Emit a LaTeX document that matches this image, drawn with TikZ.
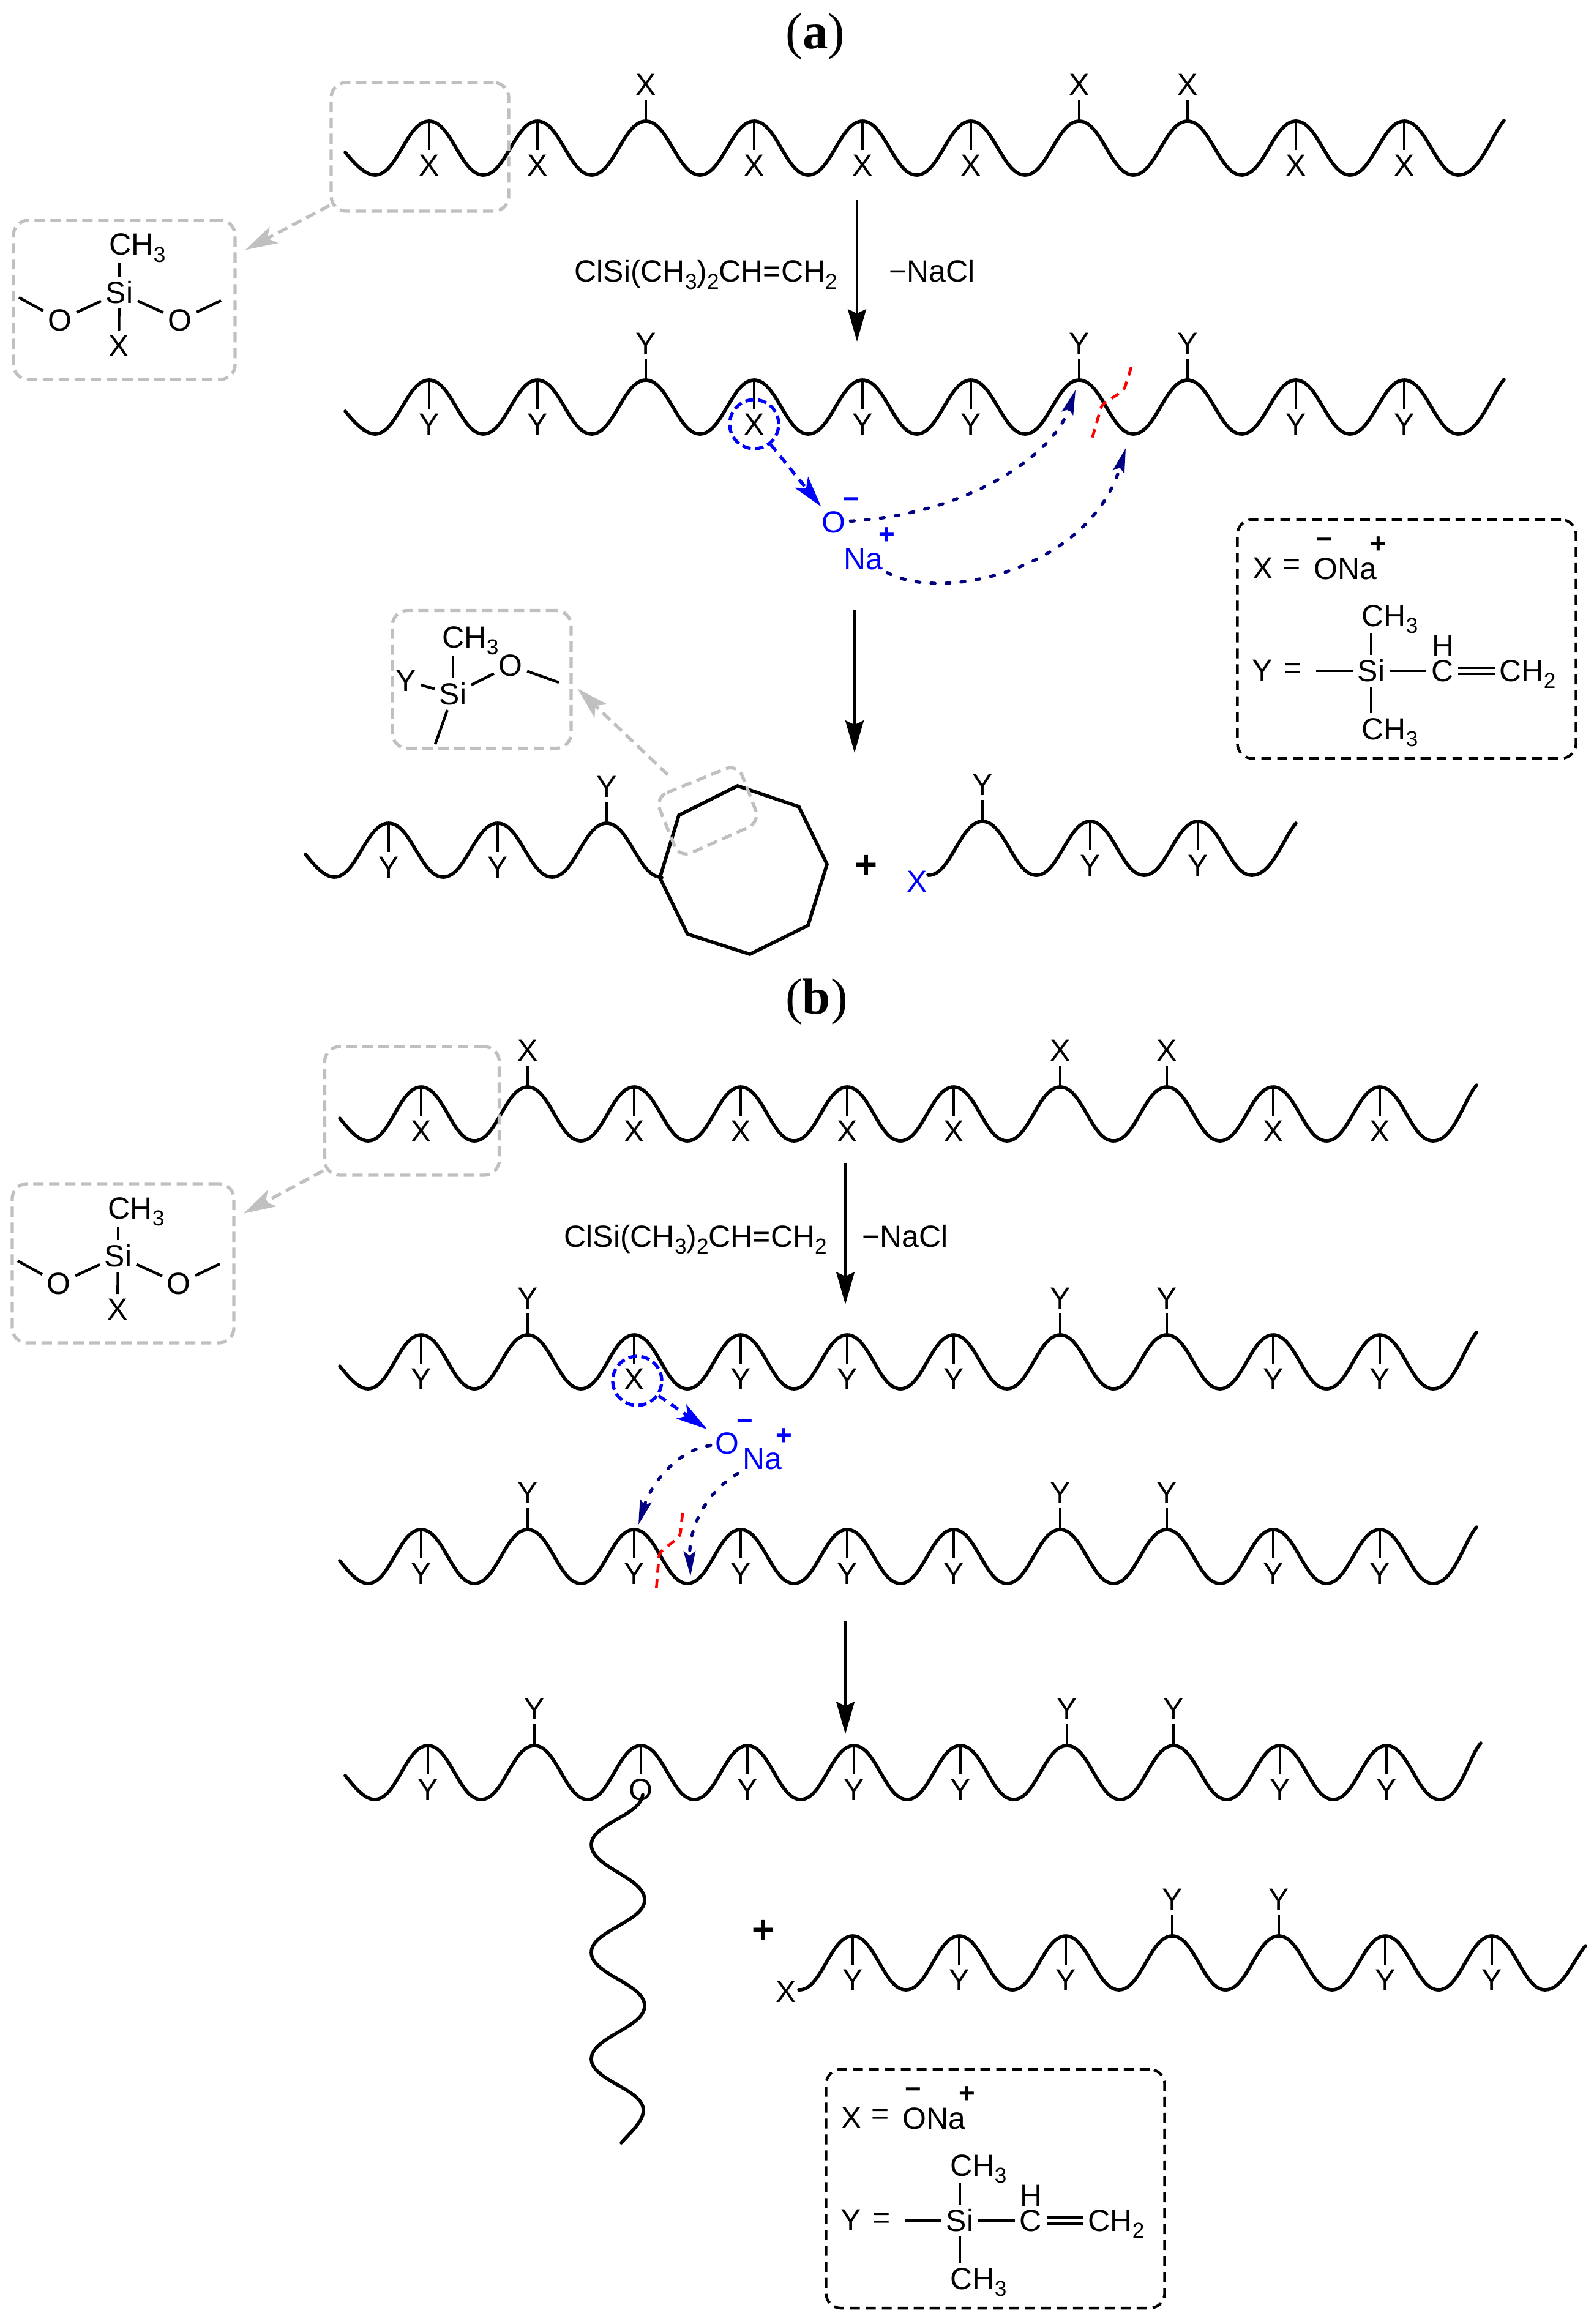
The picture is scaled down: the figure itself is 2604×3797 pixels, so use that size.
\documentclass[tikz,border=0pt]{standalone}
\usepackage{fontspec}
\setmainfont{Liberation Sans}
\newfontfamily\capfont{Liberation Serif}
\usetikzlibrary{arrows.meta}

\definecolor{boxgray}{RGB}{192,192,192}
\definecolor{arcnavy}{RGB}{0,0,128}

\newcommand{\subnum}[1]{\raisebox{-3.3pt}{\fontsize{10}{10}\selectfont #1}}

\tikzset{
  wave/.style={line width=1.6pt, line cap=round, looseness=.75},
  bond/.style={line width=1.25pt},
  txt/.style={inner sep=2pt, font=\fontsize{14.2}{16}\selectfont},
  chem/.style={txt, anchor=base west},
  chg/.style={inner sep=0pt, font=\bfseries\fontsize{13}{15}\selectfont},
  bigplus/.style={inner sep=0pt, font=\bfseries\fontsize{18}{20}\selectfont},
  captxt/.style={inner sep=0pt, font=\capfont\fontsize{23.6}{26}\selectfont},
  graybox/.style={draw=boxgray, line width=1.5pt, dash pattern=on 4.8pt off 2.6pt, rounded corners=7pt},
  blackbox/.style={draw=black, line width=1.25pt, dash pattern=on 4.6pt off 2.8pt, rounded corners=7pt},
  grayarrow/.style={boxgray, line width=1.5pt, dash pattern=on 4.8pt off 2.6pt, -{Stealth[length=15pt,width=8.5pt,inset=3.5pt]}},
  mainarrow/.style={line width=1.2pt, -{Stealth[length=15pt,width=8.5pt,inset=2pt]}},
  bluering/.style={circle, draw=blue, line width=1.5pt, dash pattern=on 4pt off 2pt, minimum size=0.8cm, inner sep=0pt},
  bluearrow/.style={blue, line width=1.5pt, dash pattern=on 4pt off 3pt, -{Stealth[length=14.5pt,width=8pt,inset=3.5pt]}},
  navyarrow/.style={arcnavy, line width=1.5pt, line cap=round, dash pattern=on 1.8pt off 5.2pt, -{Stealth[length=11.5pt,width=5.5pt,inset=2pt]}},
  redcut/.style={red, line width=1.3pt, dash pattern=on 4pt off 3pt, rounded corners=2pt}
}

% name, first peak x, peak y, period, start, end, side/label list
\newcommand{\wavechain}[7]{
  \coordinate (#1s) at (#5);
  \coordinate (#1e) at (#6);
  \coordinate (#1mm) at (#2-#4/2,#3+88);
  \draw[wave] (#1s) to[out=-50,in=180] (#1mm);
  \foreach \side/\lab [count=\idx from 0] in {#7}{
    \pgfmathsetmacro{\px}{#2+\idx*#4}
    \coordinate (#1p\idx) at (\px,#3);
    \coordinate (#1m\idx) at (\px+#4/2,#3+88);
    \xdef\lastpk{\idx}
    \ifnum\idx>0
      \pgfmathtruncatemacro{\prev}{\idx-1}
      \draw[wave] (#1m\prev) to[out=0,in=180] (#1p\idx) to[out=0,in=180] (#1m\idx);
    \else
      \draw[wave] (#1mm) to[out=0,in=180] (#1p0) to[out=0,in=180] (#1m0);
    \fi
    \if\side u
      \node[txt] (#1l\idx) at (\px,#3-60) {\lab};
    \else
      \node[txt] (#1l\idx) at (\px,#3+72) {\lab};
    \fi
    \draw[bond] (#1p\idx) -- (#1l\idx);
  }
  \draw[wave] (#1m\lastpk) to[out=0,in=-130] (#1e);
}

% name, position of Si
\newcommand{\silbox}[3]{
  \begin{scope}[shift={(#2,#3)}]
    \node[graybox, minimum width=3.62cm, minimum height=2.6cm] (#1box) at (8,12) {};
    \node[txt] (#1si) at (0,0) {Si};
    \node[txt] (#1ol) at (-97,45) {O};
    \node[txt] (#1or) at (99,45) {O};
    \node[txt] (#1x) at (-1,87) {X};
    \node[chem] (#1ch) at (-24,-61) {CH\subnum{3}};
    \coordinate (#1fl) at (-164,8);
    \coordinate (#1fr) at (166,13);
    \draw[bond, shorten >=-2pt] (#1si) -- (#1ch.south -| #1si);
    \draw[bond] (#1si) -- (#1x);
    \draw[bond] (#1si) -- (#1ol);
    \draw[bond] (#1si) -- (#1or);
    \draw[bond] (#1ol) -- (#1fl);
    \draw[bond] (#1or) -- (#1fr);
  \end{scope}
}

% name, position of Si
\newcommand{\legendbox}[3]{
  \begin{scope}[shift={(#2,#3)}]
    \node[blackbox, minimum width=5.53cm, minimum height=3.9cm] (#1box) at (58,-52) {};
    \node[txt] (#1x) at (-177,-168) {X};
    \node[txt] (#1eqx) at (-130,-170) {=};
    \node[chem] (#1ona) at (-101,-150) {ONa};
    \node[chg] (#1min) at (-76,-208) {−};
    \node[chg] (#1pls) at (12,-206) {+};
    \node[txt] (#1y) at (-178,-1) {Y};
    \node[txt] (#1eqy) at (-128,0) {=};
    \node[txt] (#1si) at (0,0) {Si};
    \node[txt] (#1c) at (116,0) {C};
    \node[txt] (#1h) at (117,-41) {H};
    \node[chem] (#1vin) at (202,17) {CH\subnum{2}};
    \node[chem] (#1up) at (-23,-73) {CH\subnum{3}};
    \node[chem] (#1dn) at (-23,112) {CH\subnum{3}};
    \coordinate (#1free) at (-90,0);
    \draw[bond] (#1free) -- (#1si);
    \draw[bond] (#1si) -- (#1c);
    \draw[bond, double, double distance=1.6pt] (#1c.east) -- (#1c.east -| #1vin.west);
    \draw[bond, shorten >=-2.5pt] (#1si) -- (#1up.south -| #1si);
    \draw[bond] (#1si) -- (#1dn.north -| #1si);
  \end{scope}
}

\begin{document}
\begin{tikzpicture}[x=0.01cm,y=-0.01cm]
\useasboundingbox (0,0) rectangle (2604,3797);

% panel a
\node[captxt] (capa) at (1332,60) {(\textbf{a})};
\wavechain{aone}{701}{198}{177}{564,249}{2457,197}{d/X,d/X,u/X,d/X,d/X,d/X,u/X,u/X,d/X,d/X}
\wavechain{atwo}{701}{621}{177}{564,672}{2457,620}{d/Y,d/Y,u/Y,d/X,d/Y,d/Y,u/Y,u/Y,d/Y,d/Y}
\wavechain{athr}{635}{1345}{178}{499,1396}{1081,1434}{d/Y,d/Y,u/Y}
\wavechain{afou}{1605}{1342}{176}{1516,1429}{2117,1345}{u/Y,d/Y,d/Y}

\node[graybox, minimum width=2.9cm, minimum height=2.1cm] (smalla) at (686,240) {};
\silbox{sa}{195}{478}
\draw[grayarrow, shorten >=4.5pt] (smalla.-147) -- (sabox.22);

\node[chem] (reaga) at (931,461) {ClSi(CH\subnum{3})\subnum{2}CH=CH\subnum{2}};
\node[chem] (naca) at (1445,461) {−NaCl};
\coordinate (arrowa1) at (1400,326);
\coordinate (arrowa2) at (1400,558);
\draw[mainarrow] (arrowa1) -- (arrowa2);

\node[bluering] (ringa) at (1232,693) {};
\node[txt, blue] (oa) at (1362,853) {O};
\node[chg, blue] (oamin) at (1391,822) {−};
\node[txt, blue] (naa) at (1410,914) {Na};
\node[chg, blue] (naapls) at (1449,875) {+};
\draw[bluearrow] (ringa) -- (oa);
\coordinate (tipa1) at (1757,637);
\coordinate (tipa2) at (1839,732);
\draw[navyarrow] (oa) .. controls (1580,840) and (1720,745) .. (tipa1);
\draw[navyarrow] (naa) .. controls (1540,985) and (1780,930) .. (tipa2);
\coordinate (cuta1) at (1848,600);
\coordinate (cuta2) at (1836,638);
\coordinate (cuta3) at (1800,661);
\coordinate (cuta4) at (1783,720);
\draw[redcut] (cuta1) -- (cuta2) -- (cuta3) -- (cuta4);

\legendbox{la}{2240}{1096}

\coordinate (arrowa3) at (1396,997);
\coordinate (arrowa4) at (1396,1230);
\draw[mainarrow] (arrowa3) -- (arrowa4);

% ring on the cut chain
\coordinate (r1) at (1078,1434);
\coordinate (r2) at (1109,1332);
\coordinate (r3) at (1205,1284);
\coordinate (r4) at (1305,1318);
\coordinate (r5) at (1351,1412);
\coordinate (r6) at (1320,1512);
\coordinate (r7) at (1225,1559);
\coordinate (r8) at (1123,1526);
\draw[wave, line join=miter] (r1) -- (r2) -- (r3) -- (r4) -- (r5) -- (r6) -- (r7) -- (r8) -- cycle;

\coordinate (t1) at (1070,1303);
\coordinate (t2) at (1205,1248);
\coordinate (t3) at (1242,1343);
\coordinate (t4) at (1110,1402);
\draw[graybox, rounded corners=6pt] (t1) -- (t2) -- (t3) -- (t4) -- cycle;

\node[graybox, minimum width=2.92cm, minimum height=2.25cm] (cyclobox) at (787,1110) {};
\node[txt] (cycsi) at (740,1134) {Si};
\node[txt] (cycy) at (663,1112) {Y};
\node[txt] (cyco) at (834,1087) {O};
\node[chem] (cycch) at (715,1058) {CH\subnum{3}};
\coordinate (cycfr) at (913,1115);
\coordinate (cycfd) at (711,1216);
\draw[bond, shorten >=-2pt] (cycsi) -- (cycch.south -| cycsi);
\draw[bond] (cycsi) -- (cycy);
\draw[bond] (cycsi) -- (cyco);
\draw[bond] (cyco) -- (cycfr);
\draw[bond] (cycsi) -- (cycfd);
\coordinate (ringout) at (1091,1266);
\draw[grayarrow, shorten >=3pt] (ringout) -- (cyclobox.-3);

\node[bigplus] (plusa) at (1415,1416) {+};
\node[txt, blue] (xa) at (1498,1440) {X};

% panel b
\node[captxt] (capb) at (1334,1637) {(\textbf{b})};
\wavechain{bone}{688}{1776}{174}{555,1827}{2412,1773}{d/X,u/X,d/X,d/X,d/X,d/X,u/X,u/X,d/X,d/X}
\wavechain{btwo}{688}{2181}{174}{555,2232}{2412,2177}{d/Y,u/Y,d/X,d/Y,d/Y,d/Y,u/Y,u/Y,d/Y,d/Y}
\wavechain{bthr}{688}{2499}{174}{555,2550}{2412,2495}{d/Y,u/Y,d/Y,d/Y,d/Y,d/Y,u/Y,u/Y,d/Y,d/Y}
\wavechain{bfou}{699}{2852}{174}{564,2901}{2419,2848}{d/Y,u/Y,d/O,d/Y,d/Y,d/Y,u/Y,u/Y,d/Y,d/Y}
\wavechain{bfiv}{1393}{3163}{174}{1305,3251}{2590,3179}{d/Y,d/Y,d/Y,u/Y,u/Y,d/Y,d/Y}

\node[graybox, minimum width=2.85cm, minimum height=2.1cm] (smallb) at (673,1815) {};
\silbox{sb}{193}{2052}
\draw[grayarrow, shorten >=4.3pt] (smallb.-146) -- (sbbox.22);

\node[chem] (reagb) at (914,2037) {ClSi(CH\subnum{3})\subnum{2}CH=CH\subnum{2}};
\node[chem] (nacb) at (1401,2037) {−NaCl};
\coordinate (arrowb1) at (1381,1900);
\coordinate (arrowb2) at (1381,2131);
\draw[mainarrow] (arrowb1) -- (arrowb2);

\node[bluering] (ringb) at (1041,2256) {};
\node[txt, blue] (ob) at (1188,2358) {O};
\node[chg, blue] (obmin) at (1217,2328) {−};
\node[txt, blue] (nab) at (1245,2384) {Na};
\node[chg, blue] (nabpls) at (1281,2347) {+};
\draw[bluearrow, shorten >=2pt] (ringb) -- (ob);
\coordinate (tipb1) at (1043,2491);
\coordinate (tipb2) at (1128,2575);
\draw[navyarrow] (ob) .. controls (1110,2368) and (1065,2420) .. (tipb1);
\draw[navyarrow] (nab) .. controls (1150,2440) and (1125,2500) .. (tipb2);
\coordinate (cutb1) at (1115,2472);
\coordinate (cutb2) at (1111,2510);
\coordinate (cutb3) at (1077,2537);
\coordinate (cutb4) at (1072,2598);
\draw[redcut] (cutb1) -- (cutb2) -- (cutb3) -- (cutb4);

\coordinate (arrowb3) at (1381,2648);
\coordinate (arrowb4) at (1381,2833);
\draw[mainarrow] (arrowb3) -- (arrowb4);

% grafted chain hanging from O
\coordinate (g0) at (1050,2932);
\coordinate (g1) at (966,3014);
\coordinate (g2) at (1053,3104);
\coordinate (g3) at (966,3190);
\coordinate (g4) at (1053,3277);
\coordinate (g5) at (966,3364);
\coordinate (g6) at (1051,3448);
\coordinate (g7) at (1015,3501);
\draw[wave] (g0) to[out=-95,in=90] (g1) to[out=-90,in=90] (g2) to[out=-90,in=90] (g3)
  to[out=-90,in=90] (g4) to[out=-90,in=90] (g5) to[out=-90,in=90] (g6) to[out=-90,in=50] (g7);

\node[bigplus] (plusb) at (1247,3156) {+};
\node[txt] (xb) at (1284,3254) {X};

\legendbox{lb}{1568}{3628}
\end{tikzpicture}
\end{document}
